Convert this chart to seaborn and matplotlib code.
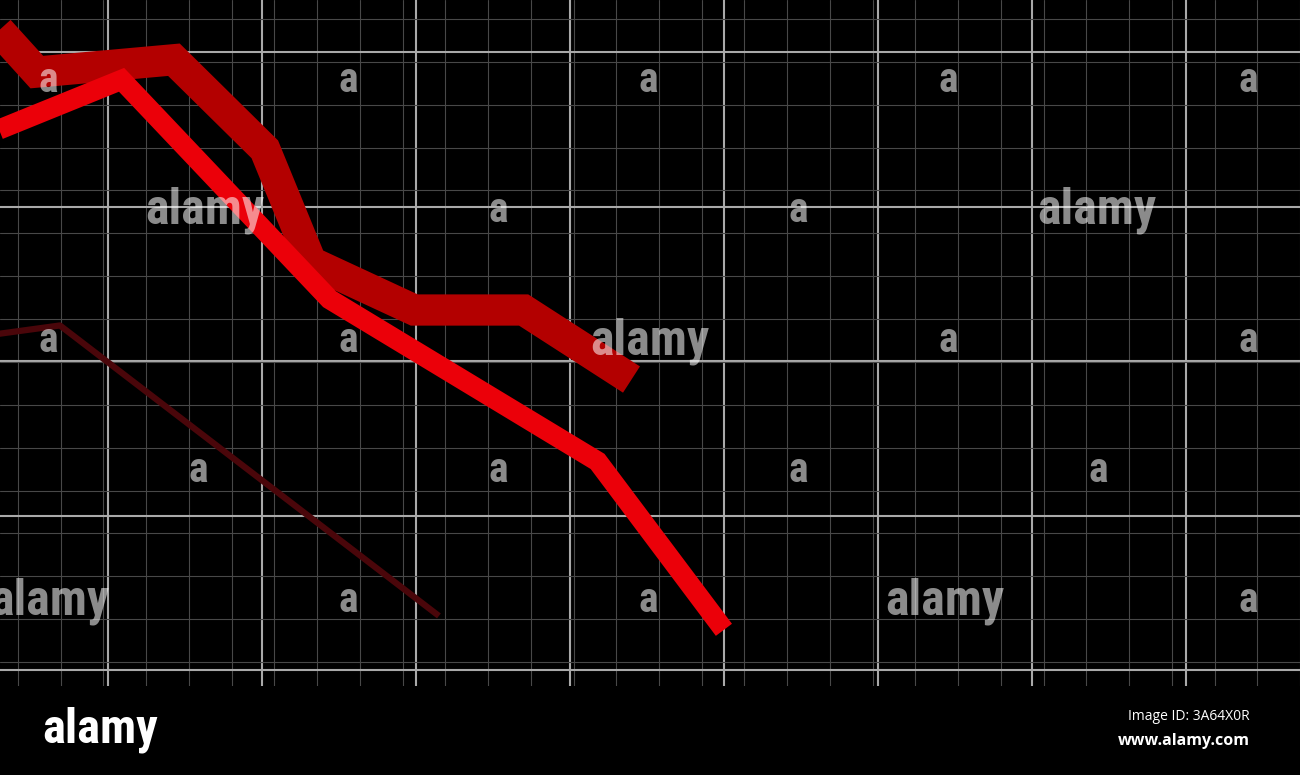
# plot.py
# falling red trend lines on a black grid, stock-photo style

import numpy as np
import matplotlib
matplotlib.use("Agg")
import matplotlib.pyplot as plt
import seaborn as sns

# -- data (grid units: one major cell = 1)
dark_x = [-0.76, -0.46, 0.43, 1.02, 1.32, 1.99, 2.70, 3.40]
dark_y = [4.20, 3.87, 3.95, 3.37, 2.64, 2.33, 2.33, 1.88]

bright_x = [-0.75, 0.09, 1.44, 3.18, 4.00]
bright_y = [3.48, 3.82, 2.40, 1.35, 0.26]

maroon_x = [-0.75, -0.31, 2.15]
maroon_y = [2.17, 2.23, 0.35]

# watermark spots (pixel positions on the 1300x775 image)
logo_spots = [(205, 210), (650, 341), (1097, 210), (50, 601), (945, 601)]
a_spots = [(48, 80), (348, 80), (648, 80), (948, 80), (1248, 80),
           (498, 210), (798, 210),
           (48, 340), (348, 340), (948, 340), (1248, 340),
           (198, 470), (498, 470), (798, 470), (1098, 470),
           (348, 600), (648, 600), (1248, 600)]

W, H = 1300, 775
NARROW = ['Roboto Condensed', 'DejaVu Sans']
PLAIN = ['Open Sans', 'DejaVu Sans']


def px(x, y):
    return x / W, 1 - y / H


def main():
    sns.set_style("dark", {"axes.facecolor": "black", "figure.facecolor": "black"})
    fig = plt.figure(figsize=(13, 7.75), dpi=100)
    fig.patch.set_facecolor("black")
    ax = fig.add_axes([0, 89 / H, 1, 686 / H])
    ax.set_facecolor("black")

    ax.set_xlim(-108 / 154.5, (W - 108) / 154.5)
    ax.set_ylim(-16 / 154.5, 670 / 154.5)

    # grids: major every cell, finer grid not aligned with it
    ax.set_xticks(np.arange(0, 8))
    ax.set_yticks(np.arange(0, 5))
    ax.set_xticks(np.arange(-0.5825, 7.8, 0.2774), minor=True)
    ax.set_yticks(np.arange(4.2136, -0.1, -0.2775), minor=True)
    ax.grid(True, which="major", color="#a9a9a9", linewidth=1.5)
    ax.grid(True, which="minor", color="#484848", linewidth=0.8)
    ax.tick_params(which="both", length=0, labelbottom=False, labelleft=False)
    for s in ax.spines.values():
        s.set_visible(False)
    ax.set_axisbelow(True)

    sns.lineplot(x=maroon_x, y=maroon_y, sort=False, estimator=None,
                 color="#4a060a", linewidth=4.5, solid_capstyle="butt", ax=ax)
    sns.lineplot(x=dark_x, y=dark_y, sort=False, estimator=None,
                 color="#b30000", linewidth=22.5, solid_capstyle="butt",
                 solid_joinstyle="miter", ax=ax)
    sns.lineplot(x=bright_x, y=bright_y, sort=False, estimator=None,
                 color="#eb0009", linewidth=14.5, solid_capstyle="butt",
                 solid_joinstyle="miter", ax=ax)
    ax.set_xlabel("")
    ax.set_ylabel("")

    # watermarks
    for (x, y) in logo_spots:
        fx, fy = px(x, y)
        fig.text(fx, fy, "alamy", family=NARROW, weight="bold", fontsize=36,
                 color="white", alpha=0.55, ha="center", va="center", zorder=10)
    for (x, y) in a_spots:
        fx, fy = px(x, y)
        fig.text(fx, fy, "a", family=NARROW, weight="bold", fontsize=30,
                 color="white", alpha=0.55, ha="center", va="center", zorder=10)

    # footer
    fx, fy = px(100, 730)
    fig.text(fx, fy, "alamy", family=NARROW, weight="bold", fontsize=35,
             color="white", ha="center", va="center")
    fx, fy = px(1250, 717)
    fig.text(fx, fy, "Image ID: 3A64X0R", family=PLAIN,
             fontsize=10, color="white", ha="right", va="center")
    fx, fy = px(1250, 741)
    fig.text(fx, fy, "www.alamy.com", family=PLAIN,
             weight="bold", fontsize=11.5, color="white", ha="right", va="center")

    fig.savefig("out.png", dpi=100, facecolor="black")
    plt.close(fig)


if __name__ == "__main__":
    main()
